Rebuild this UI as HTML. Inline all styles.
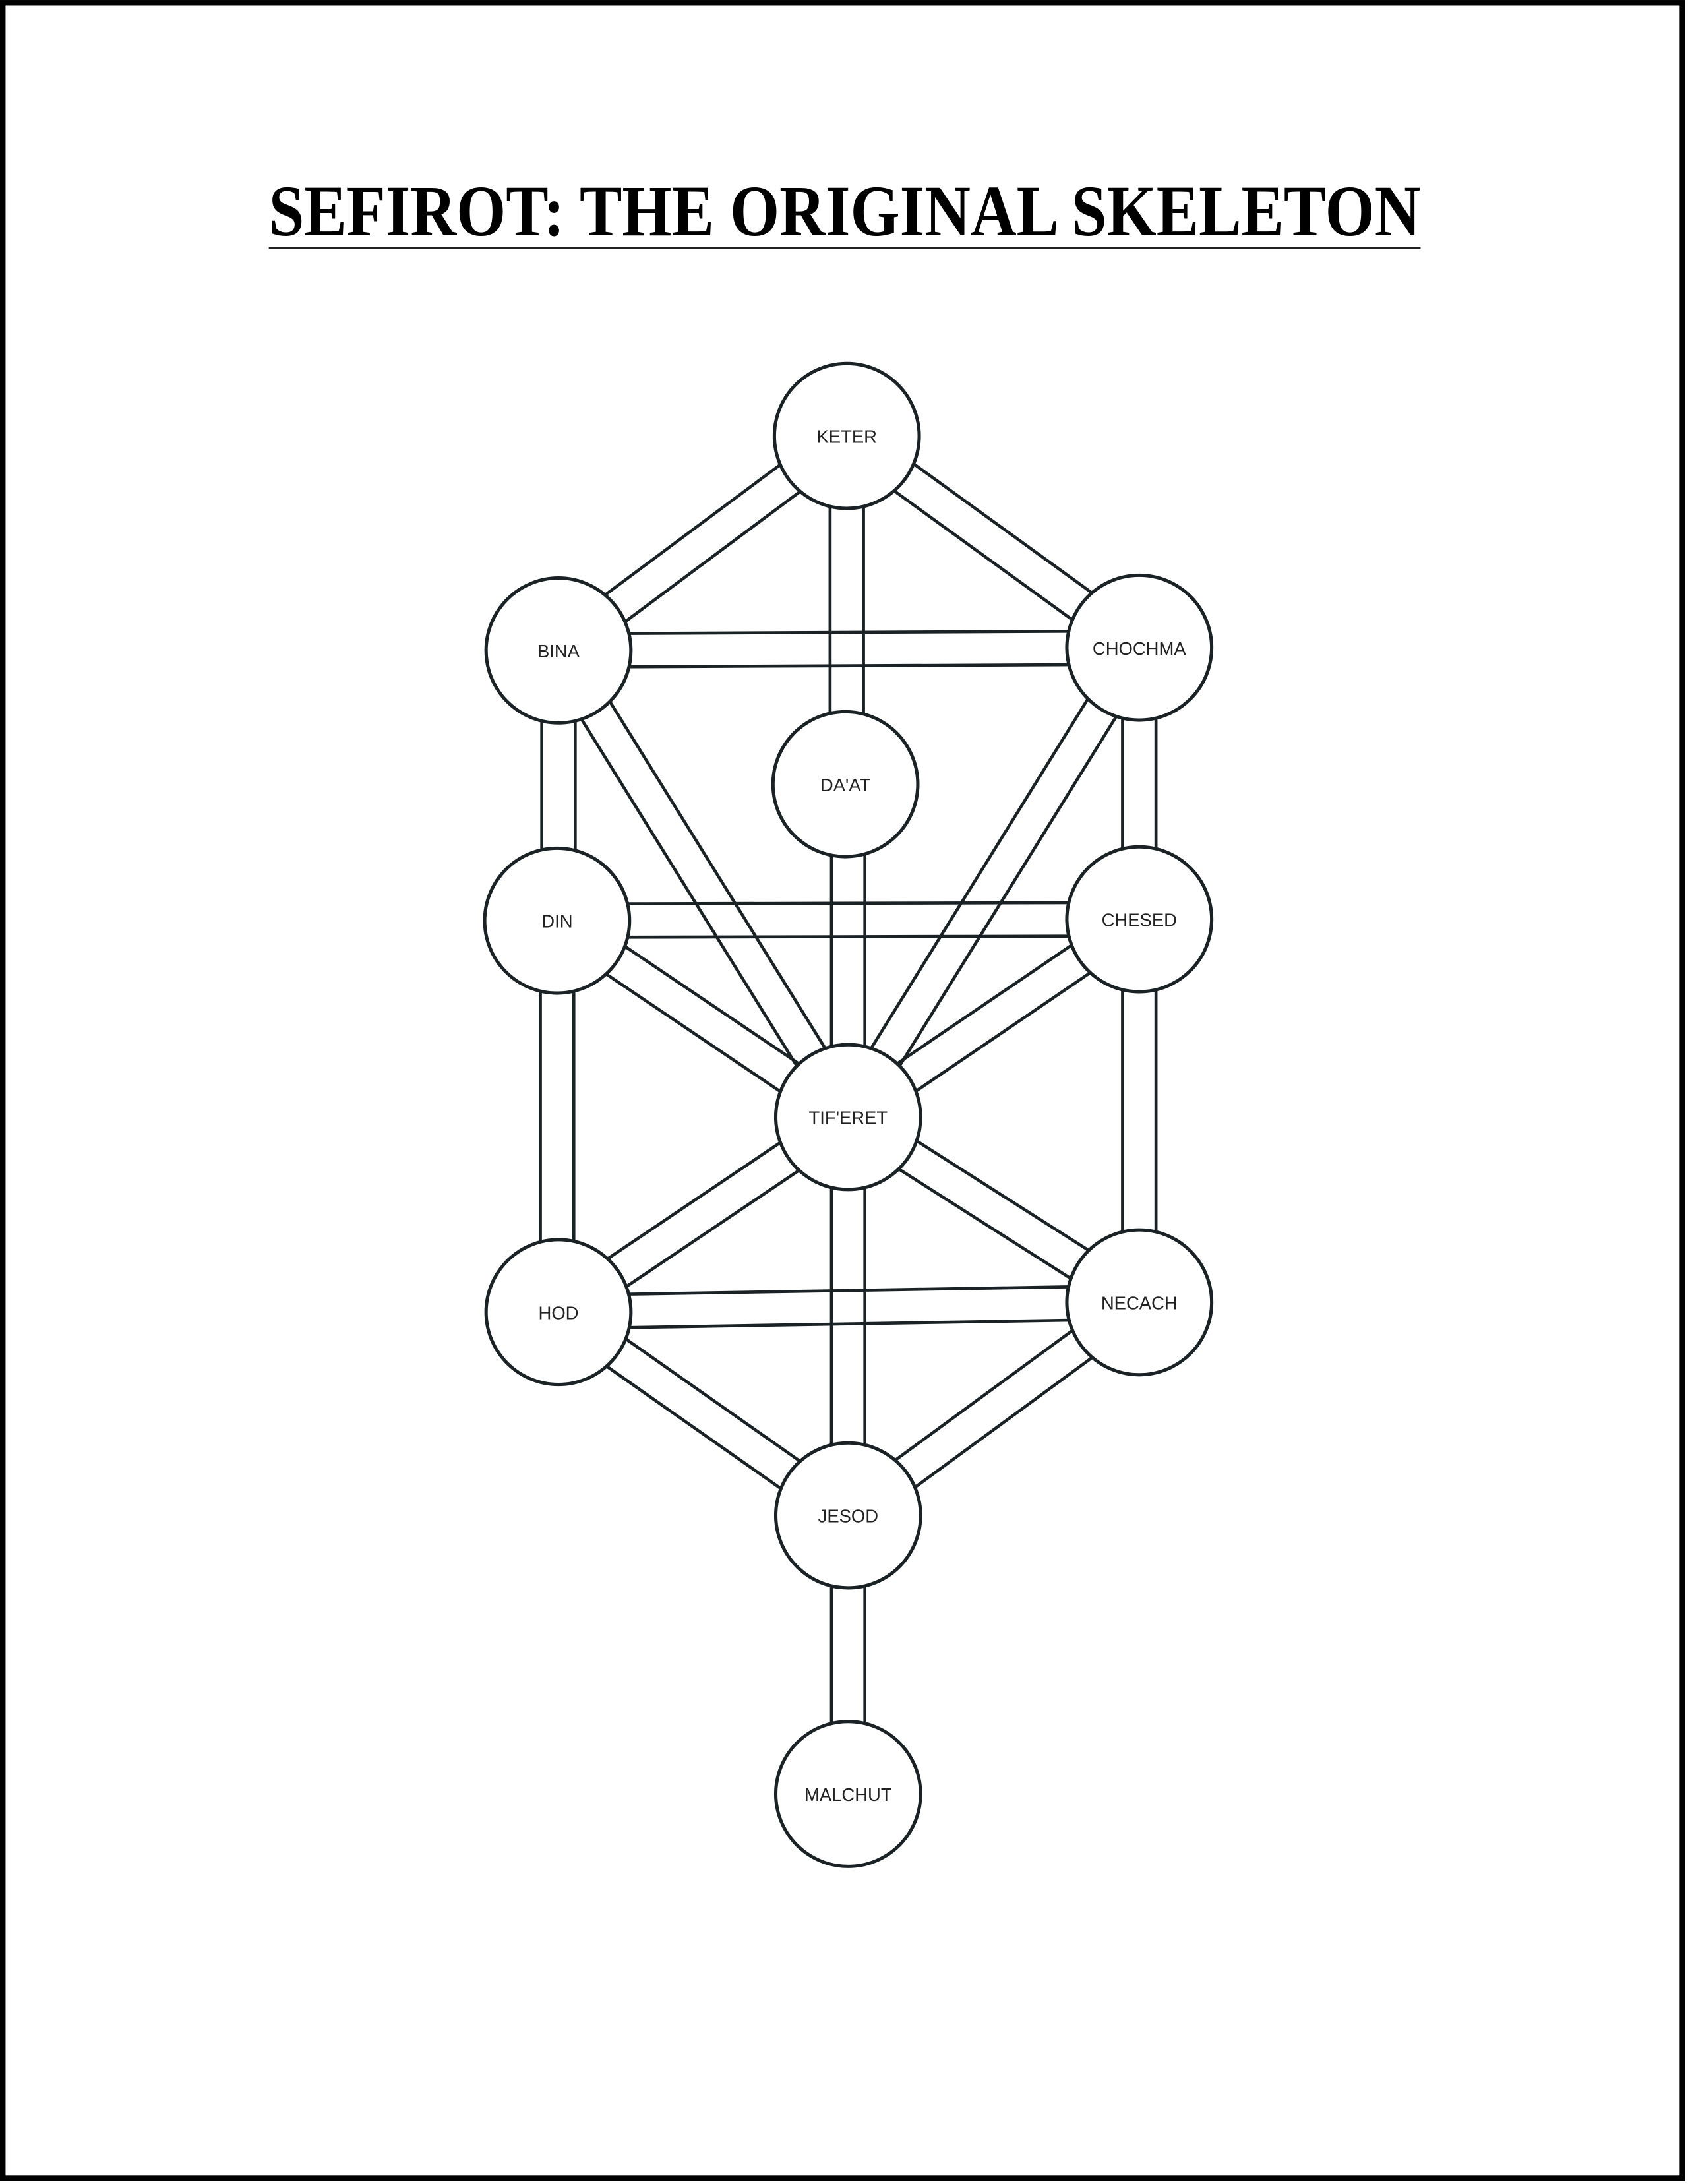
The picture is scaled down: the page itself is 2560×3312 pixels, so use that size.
<!DOCTYPE html>
<html><head><meta charset="utf-8"><style>
html,body{margin:0;padding:0;background:#fff}
svg{display:block}
</style></head><body>
<svg width="2560" height="3312" viewBox="0 0 1212 1568" xmlns="http://www.w3.org/2000/svg">
<rect x="0" y="0" width="1212" height="1568" fill="#fff"/>
<rect x="2" y="2" width="1206" height="1562" fill="none" stroke="#000" stroke-width="4"/>
<text x="193" y="169" font-family="Liberation Serif, serif" font-weight="bold" font-size="52" textLength="827" lengthAdjust="spacingAndGlyphs" fill="#000">SEFIROT:  THE ORIGINAL SKELETON</text>
<line x1="193" y1="178" x2="1020" y2="178" stroke="#222" stroke-width="1.5"/>
<g stroke="#1a2226" stroke-width="2.2" fill="none">
<line x1="600.8" y1="303.4" x2="393.8" y2="457.4"/><line x1="615.2" y1="322.6" x2="408.2" y2="476.6"/>
<line x1="601" y1="322.7" x2="811" y2="474.7"/><line x1="615" y1="303.3" x2="825" y2="455.3"/>
<line x1="596" y1="313" x2="596" y2="563"/><line x1="620" y1="313" x2="620" y2="563"/>
<line x1="597" y1="563" x2="597" y2="802"/><line x1="621" y1="563" x2="621" y2="802"/>
<line x1="401" y1="455" x2="818" y2="453"/><line x1="401" y1="479" x2="818" y2="477"/>
<line x1="389" y1="467" x2="389" y2="661"/><line x1="413" y1="467" x2="413" y2="661"/>
<line x1="806" y1="465" x2="806" y2="660"/><line x1="830" y1="465" x2="830" y2="660"/>
<line x1="390.8" y1="473.3" x2="598.8" y2="808.3"/><line x1="411.2" y1="460.7" x2="619.2" y2="795.7"/>
<line x1="807.8" y1="458.7" x2="598.8" y2="795.7"/><line x1="828.2" y1="471.3" x2="619.2" y2="808.3"/>
<line x1="400" y1="649" x2="818" y2="648"/><line x1="400" y1="673" x2="818" y2="672"/>
<line x1="393.3" y1="671" x2="602.3" y2="812"/><line x1="406.7" y1="651.1" x2="615.7" y2="792.1"/>
<line x1="811.3" y1="650.1" x2="602.3" y2="792.1"/><line x1="824.7" y1="669.9" x2="615.7" y2="811.9"/>
<line x1="388" y1="661" x2="388" y2="942"/><line x1="412" y1="661" x2="412" y2="942"/>
<line x1="806" y1="660" x2="806" y2="935"/><line x1="830" y1="660" x2="830" y2="935"/>
<line x1="602.3" y1="792" x2="394.3" y2="932"/><line x1="615.7" y1="812" x2="407.7" y2="952"/>
<line x1="602.6" y1="812.1" x2="811.6" y2="945.1"/><line x1="615.4" y1="791.9" x2="824.4" y2="924.9"/>
<line x1="401" y1="930" x2="818" y2="923"/><line x1="401" y1="954" x2="818" y2="947"/>
<line x1="597" y1="802" x2="597" y2="1088"/><line x1="621" y1="802" x2="621" y2="1088"/>
<line x1="394.1" y1="951.8" x2="602.1" y2="1097.8"/><line x1="407.9" y1="932.2" x2="615.9" y2="1078.2"/>
<line x1="810.9" y1="925.3" x2="601.9" y2="1078.3"/><line x1="825.1" y1="944.7" x2="616.1" y2="1097.7"/>
<line x1="597" y1="1088" x2="597" y2="1288"/><line x1="621" y1="1088" x2="621" y2="1288"/>
</g>
<g fill="#fff" stroke="#1a2226" stroke-width="2.4">
<circle cx="608" cy="313" r="52"/><circle cx="401" cy="467" r="52"/><circle cx="818" cy="465" r="52"/>
<circle cx="607" cy="563" r="52"/><circle cx="400" cy="661" r="52"/><circle cx="818" cy="660" r="52"/>
<circle cx="609" cy="802" r="52"/><circle cx="401" cy="942" r="52"/><circle cx="818" cy="935" r="52"/>
<circle cx="609" cy="1088" r="52"/><circle cx="609" cy="1288" r="52"/>
</g>
<g font-family="Liberation Sans, sans-serif" font-size="13" fill="#222" text-anchor="middle">
<text x="608" y="318">KETER</text><text x="401" y="472">BINA</text><text x="818" y="470">CHOCHMA</text>
<text x="607" y="568">DA'AT</text><text x="400" y="666">DIN</text><text x="818" y="665">CHESED</text>
<text x="609" y="807">TIF'ERET</text><text x="401" y="947">HOD</text><text x="818" y="940">NECACH</text>
<text x="609" y="1093">JESOD</text><text x="609" y="1293">MALCHUT</text>
</g>
</svg>
</body></html>
